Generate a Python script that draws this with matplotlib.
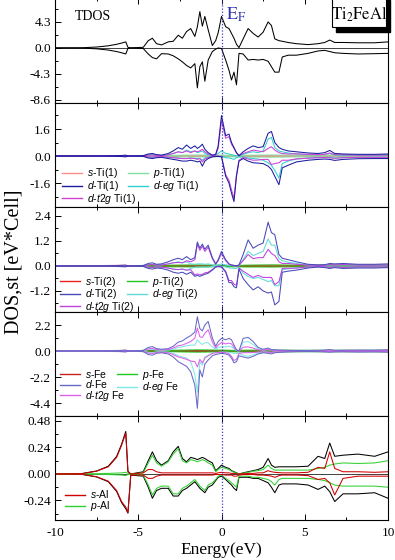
import matplotlib
matplotlib.use("Agg")
import matplotlib.pyplot as plt
from matplotlib.lines import Line2D
from matplotlib.patches import Rectangle
from matplotlib.ticker import MultipleLocator, FormatStrFormatter, FixedLocator

plt.rcParams['font.family'] = ['Liberation Serif', 'DejaVu Serif']
plt.rcParams['axes.unicode_minus'] = False
plt.rcParams['mathtext.fontset'] = 'custom'
plt.rcParams['mathtext.rm'] = 'Liberation Sans'
plt.rcParams['mathtext.it'] = 'Liberation Sans:italic'

# ---------------- data ----------------
E = [-10.0, -8.4, -7.5, -6.8, -6.3, -6.0, -5.75, -5.62, -5.45,
     -4.7, -4.4, -4.15, -3.9, -3.6, -3.2, -2.9, -2.6, -2.35, -2.1, -1.85,
     -1.6, -1.45, -1.3, -1.15, -1.0, -0.8, -0.55, -0.35, -0.2, 0.0,
     0.25, 0.45, 0.6, 0.75, 0.9, 1.05, 1.3, 1.6, 1.9, 2.2,
     2.5, 2.8, 3.0, 3.2, 3.45, 3.65, 4.0, 4.5,
     5.2, 5.8, 6.2, 6.5, 6.8, 7.3, 8.2, 9.2, 10.0]

tdos_up = [0, 0.02, 0.15, 0.35, 0.6, 0.8, 1.0, 0.1, 0.02,
           0.1, 1.2, 1.6, 0.7, 0.5, 1.0, 1.1, 2.1, 1.6, 2.7, 3.2,
           1.9, 3.5, 6.0, 3.6, 5.2, 3.0, 0.4, 1.2, 2.5, 5.2,
           3.5, 3.2, 2.4, 1.6, 0.6, 0.05, 1.5, 3.2, 2.4, 1.8,
           2.6, 4.3, 3.7, 1.5, 1.2, 1.1, 0.9, 0.7,
           0.55, 0.7, 0.9, 1.3, 0.9, 0.9, 0.85, 0.85, 1.0]
tdos_dn = [0, -0.02, -0.15, -0.35, -0.6, -0.8, -1.0, -0.1, -0.02,
           -0.1, -1.0, -1.6, -1.8, -0.95, -1.0, -1.3, -1.8, -2.3, -2.9, -3.3,
           -2.6, -6.6, -3.1, -2.3, -5.5, -2.0, -0.6, -0.2, 0.0, -0.1,
           -2.0, -3.7, -5.3, -4.0, -6.1, -0.9, -1.0, -2.0, -1.9, -2.0,
           -1.9, -2.2, -3.1, -4.0, -4.0, -1.5, -1.2, -1.2,
           -0.9, -0.5, -0.4, -0.6, -0.8, -0.9, -1.0, -0.95, -0.9]

# Ti(1)
ti1_d_up = [0, 0, 0, 0.01, 0.02, 0.03, 0.05, 0.01, 0,
            0.02, 0.12, 0.15, 0.08, 0.05, 0.15, 0.3, 0.5, 0.4, 0.65, 0.45,
            0.6, 0.45, 0.55, 0.7, 0.4, 0.2, 0.05, 0.1, 0.6, 2.4,
            1.2, 1.3, 0.8, 0.5, 0.2, 0.02, 0.25, 0.45, 0.6, 0.5,
            0.55, 1.35, 1.45, 0.8, 0.5, 0.4, 0.3, 0.25,
            0.18, 0.15, 0.2, 0.33, 0.15, 0.12, 0.1, 0.1, 0.12]
ti1_d_dn = [0, 0, 0, -0.01, -0.02, -0.03, -0.05, -0.01, 0,
            -0.02, -0.12, -0.15, -0.1, -0.08, -0.15, -0.2, -0.25, -0.3, -0.3, -0.25,
            -0.3, -0.35, -0.3, -0.6, -0.3, -0.15, -0.05, -0.03, -0.02, -0.05,
            -1.2, -1.6, -2.2, -2.7, -1.2, -0.3, -0.15, -0.3, -0.4, -0.42,
            -0.45, -0.6, -0.8, -1.2, -1.7, -0.7, -0.55, -0.35,
            -0.25, -0.2, -0.18, -0.2, -0.26, -0.2, -0.16, -0.15, -0.15]
ti1_eg_up = [0, 0, 0, 0, 0.01, 0.01, 0.02, 0, 0,
             0.01, 0.07, 0.09, 0.05, 0.03, 0.08, 0.15, 0.25, 0.2, 0.35, 0.25,
             0.3, 0.2, 0.25, 0.3, 0.15, 0.08, 0.02, 0.05, 0.15, 0.3,
             0.15, 0.12, 0.08, 0.05, 0.02, 0.0, 0.1, 0.2, 0.25, 0.2,
             0.3, 1.0, 1.1, 0.5, 0.3, 0.25, 0.18, 0.12,
             0.08, 0.07, 0.1, 0.15, 0.07, 0.05, 0.05, 0.05, 0.06]
ti1_eg_dn = [0, 0, 0, 0, -0.01, -0.01, -0.02, 0, 0,
             -0.01, -0.07, -0.09, -0.06, -0.05, -0.08, -0.1, -0.12, -0.15, -0.15, -0.12,
             -0.15, -0.15, -0.15, -0.25, -0.12, -0.06, -0.02, -0.01, -0.01, -0.02,
             -0.1, -0.12, -0.15, -0.2, -0.1, -0.05, -0.06, -0.12, -0.15, -0.18,
             -0.25, -0.4, -0.55, -0.85, -1.3, -0.45, -0.3, -0.18,
             -0.12, -0.1, -0.09, -0.1, -0.12, -0.1, -0.08, -0.07, -0.07]
ti1_t2g_up = [0, 0, 0, 0.01, 0.01, 0.02, 0.03, 0.01, 0,
              0.01, 0.05, 0.06, 0.03, 0.02, 0.07, 0.15, 0.25, 0.2, 0.3, 0.2,
              0.3, 0.25, 0.3, 0.4, 0.25, 0.12, 0.03, 0.05, 0.45, 2.1,
              1.05, 1.15, 0.7, 0.45, 0.18, 0.02, 0.15, 0.25, 0.35, 0.3,
              0.25, 0.45, 0.55, 0.35, 0.2, 0.15, 0.12, 0.13,
              0.1, 0.08, 0.1, 0.18, 0.08, 0.07, 0.05, 0.05, 0.06]
ti1_t2g_dn = [0, 0, 0, -0.01, -0.01, -0.02, -0.03, -0.01, 0,
              -0.01, -0.05, -0.06, -0.04, -0.03, -0.07, -0.1, -0.13, -0.15, -0.15, -0.13,
              -0.15, -0.2, -0.15, -0.35, -0.18, -0.09, -0.03, -0.02, -0.01, -0.03,
              -1.1, -1.45, -2.0, -2.5, -1.1, -0.25, -0.09, -0.18, -0.25, -0.24,
              -0.2, -0.2, -0.5, -0.45, -0.4, -0.25, -0.25, -0.17,
              -0.13, -0.1, -0.09, -0.1, -0.14, -0.1, -0.08, -0.08, -0.08]

# Ti(2)
ti2_d_up = [0, 0, 0, 0.01, 0.02, 0.03, 0.04, 0.01, 0,
            0.02, 0.12, 0.15, 0.08, 0.1, 0.2, 0.3, 0.37, 0.3, 0.45, 0.3,
            0.4, 1.15, 0.85, 1.05, 0.8, 1.0, 0.4, 0.1, 0.3, 0.7,
            0.3, 0.1, 0.05, 0.03, 0.0, 0.05, 0.55, 1.25, 0.85, 1.0,
            1.1, 2.1, 1.6, 1.5, 0.55, 0.37, 0.3, 0.2,
            0.08, 0.05, 0.06, 0.12, 0.1, 0.12, 0.08, 0.08, 0.1]
ti2_d_dn = [0, 0, 0, -0.01, -0.02, -0.03, -0.04, -0.01, 0,
            -0.02, -0.12, -0.15, -0.1, -0.12, -0.2, -0.3, -0.35, -0.3, -0.4, -0.3,
            -0.5, -0.45, -0.5, -0.45, -0.4, -0.35, -0.2, -0.05, -0.03, -0.05,
            -0.3, -0.8, -0.8, -1.0, -1.05, -0.15, -0.6, -0.9, -1.15, -1.0,
            -1.2, -1.3, -1.25, -1.87, -1.7, -0.3, -0.25, -0.2,
            -0.1, -0.05, -0.08, -0.12, -0.08, -0.12, -0.1, -0.1, -0.08]
ti2_eg_up = [0, 0, 0, 0, 0.01, 0.01, 0.02, 0, 0,
             0.01, 0.06, 0.08, 0.04, 0.06, 0.1, 0.15, 0.2, 0.15, 0.2, 0.1,
             0.08, 0.1, 0.1, 0.1, 0.08, 0.1, 0.05, 0.02, 0.05, 0.1,
             0.05, 0.02, 0.01, 0.01, 0.0, 0.02, 0.3, 0.7, 0.5, 0.6,
             0.7, 1.3, 1.0, 1.0, 0.35, 0.25, 0.18, 0.12,
             0.04, 0.02, 0.03, 0.05, 0.05, 0.05, 0.04, 0.04, 0.05]
ti2_eg_dn = [0, 0, 0, 0, -0.01, -0.01, -0.02, 0, 0,
             -0.01, -0.06, -0.08, -0.05, -0.06, -0.1, -0.15, -0.18, -0.15, -0.2, -0.12,
             -0.06, -0.05, -0.05, -0.05, -0.05, -0.05, -0.03, -0.01, -0.01, -0.01,
             -0.04, -0.1, -0.1, -0.12, -0.12, -0.05, -0.35, -0.5, -0.6, -0.55,
             -0.65, -0.75, -0.7, -0.95, -0.95, -0.18, -0.14, -0.1,
             -0.05, -0.02, -0.04, -0.05, -0.04, -0.05, -0.05, -0.05, -0.04]
ti2_t2g_up = [0, 0, 0, 0.01, 0.01, 0.02, 0.02, 0.01, 0,
              0.01, 0.06, 0.07, 0.04, 0.04, 0.1, 0.15, 0.17, 0.15, 0.25, 0.2,
              0.3, 1.05, 0.75, 0.95, 0.7, 0.9, 0.35, 0.08, 0.25, 0.6,
              0.25, 0.08, 0.04, 0.02, 0.0, 0.03, 0.25, 0.55, 0.35, 0.4,
              0.4, 0.8, 0.6, 0.5, 0.2, 0.12, 0.12, 0.08,
              0.04, 0.03, 0.03, 0.07, 0.05, 0.07, 0.04, 0.04, 0.05]
ti2_t2g_dn = [0, 0, 0, -0.01, -0.01, -0.02, -0.02, -0.01, 0,
              -0.01, -0.06, -0.07, -0.05, -0.06, -0.1, -0.15, -0.17, -0.15, -0.2, -0.18,
              -0.43, -0.38, -0.43, -0.4, -0.33, -0.3, -0.17, -0.04, -0.02, -0.04,
              -0.25, -0.7, -0.7, -0.88, -0.93, -0.1, -0.25, -0.4, -0.55, -0.45,
              -0.55, -0.55, -0.55, -0.9, -0.75, -0.12, -0.11, -0.1,
              -0.05, -0.03, -0.04, -0.07, -0.04, -0.07, -0.05, -0.05, -0.04]

# Fe
fe_d_up = [0, 0, 0, 0.02, 0.03, 0.05, 0.08, 0.02, 0,
           0.05, 0.3, 0.37, 0.2, 0.15, 0.2, 0.4, 0.75, 0.85, 1.1, 1.3,
           1.6, 2.9, 1.9, 1.7, 2.2, 2.5, 1.1, 0.4, 0.8, 1.07,
           0.95, 1.07, 0.95, 0.5, 0.1, 0.0, 1.07, 1.15, 0.8, 0.3,
           0.15, 0.25, 0.12, 0.1, 0.08, 0.07, 0.06, 0.05,
           0.05, 0.06, 0.08, 0.12, 0.06, 0.07, 0.08, 0.08, 0.1]
fe_d_dn = [0, 0, 0, -0.02, -0.03, -0.05, -0.08, -0.02, 0,
           -0.05, -0.3, -0.35, -0.2, -0.15, -0.25, -0.5, -0.9, -1.1, -1.3, -1.75,
           -2.9, -4.85, -1.6, -2.2, -1.1, -0.76, -0.4, -0.3, -0.25, -0.2,
           -0.25, -0.35, -0.6, -1.0, -0.9, -0.4, -0.5, -0.6, -0.45, -0.25,
           -0.15, -0.2, -0.25, -0.15, -0.12, -0.1, -0.08, -0.06,
           -0.05, -0.06, -0.08, -0.1, -0.08, -0.07, -0.09, -0.08, -0.1]
fe_eg_up = [0, 0, 0, 0.01, 0.01, 0.02, 0.03, 0.01, 0,
            0.02, 0.12, 0.15, 0.08, 0.06, 0.08, 0.15, 0.3, 0.35, 0.45, 0.5,
            0.5, 0.95, 0.7, 0.55, 0.7, 0.7, 0.35, 0.15, 0.3, 0.35,
            0.35, 0.4, 0.35, 0.2, 0.04, 0, 0.75, 0.8, 0.55, 0.2,
            0.07, 0.12, 0.06, 0.05, 0.04, 0.03, 0.03, 0.02,
            0.02, 0.03, 0.04, 0.05, 0.03, 0.03, 0.04, 0.04, 0.05]
fe_eg_dn = [0, 0, 0, -0.01, -0.01, -0.02, -0.03, -0.01, 0,
            -0.02, -0.12, -0.14, -0.08, -0.06, -0.1, -0.2, -0.4, -0.5, -0.6, -0.9,
            -2.0, -3.5, -0.9, -1.2, -0.5, -0.35, -0.2, -0.15, -0.12, -0.1,
            -0.1, -0.12, -0.15, -0.2, -0.2, -0.2, -0.35, -0.45, -0.32, -0.17,
            -0.07, -0.1, -0.12, -0.07, -0.06, -0.05, -0.04, -0.03,
            -0.02, -0.03, -0.04, -0.05, -0.04, -0.03, -0.04, -0.04, -0.05]
fe_t2g_up = [0, 0, 0, 0.01, 0.02, 0.03, 0.05, 0.01, 0,
             0.03, 0.18, 0.22, 0.12, 0.09, 0.12, 0.25, 0.45, 0.5, 0.65, 0.8,
             1.1, 1.95, 1.2, 1.15, 1.5, 1.8, 0.75, 0.25, 0.5, 0.72,
             0.6, 0.67, 0.6, 0.3, 0.06, 0, 0.32, 0.35, 0.25, 0.1,
             0.08, 0.13, 0.06, 0.05, 0.04, 0.04, 0.03, 0.03,
             0.03, 0.03, 0.04, 0.07, 0.03, 0.04, 0.04, 0.04, 0.05]
fe_t2g_dn = [0, 0, 0, -0.01, -0.02, -0.03, -0.05, -0.01, 0,
             -0.03, -0.18, -0.21, -0.12, -0.09, -0.15, -0.3, -0.5, -0.6, -0.7, -0.85,
             -0.9, -1.35, -0.7, -1.0, -0.6, -0.41, -0.2, -0.15, -0.13, -0.1,
             -0.15, -0.23, -0.45, -0.8, -0.7, -0.2, -0.15, -0.15, -0.13, -0.08,
             -0.08, -0.1, -0.13, -0.08, -0.06, -0.05, -0.04, -0.03,
             -0.03, -0.03, -0.04, -0.05, -0.04, -0.04, -0.05, -0.04, -0.05]

# s and p of the transition-metal sites (coarse grid)
E_SP = [-10.0, -5.8, -5.5, -4.3, -3.0, -1.5, 0.0, 0.8, 1.5, 3.0, 4.5, 6.5, 8.0, 10.0]
ti1_s_up = [0, 0.03, 0, 0.03, 0.02, 0.03, 0.02, 0.01, 0.02, 0.03, 0.03, 0.04, 0.03, 0.03]
ti1_s_dn = [0, -0.03, 0, -0.03, -0.02, -0.03, -0.02, -0.02, -0.02, -0.03, -0.03, -0.04, -0.03, -0.03]
ti1_p_up = [0, 0.01, 0, 0.05, 0.04, 0.06, 0.05, 0.03, 0.05, 0.06, 0.05, 0.05, 0.05, 0.05]
ti1_p_dn = [0, -0.01, 0, -0.05, -0.05, -0.06, -0.04, -0.05, -0.06, -0.07, -0.05, -0.05, -0.05, -0.05]
ti2_s_up = [0, 0.03, 0, 0.03, 0.02, 0.02, 0.02, 0.01, 0.02, 0.03, 0.02, 0.03, 0.03, 0.03]
ti2_s_dn = [0, -0.03, 0, -0.03, -0.02, -0.02, -0.02, -0.02, -0.02, -0.03, -0.02, -0.03, -0.03, -0.03]
ti2_p_up = [0, 0.01, 0, 0.04, 0.04, 0.05, 0.04, 0.02, 0.04, 0.05, 0.04, 0.04, 0.04, 0.04]
ti2_p_dn = [0, -0.01, 0, -0.04, -0.04, -0.05, -0.03, -0.04, -0.05, -0.05, -0.04, -0.04, -0.04, -0.04]
fe_s_up = [0, 0.05, 0, 0.05, 0.03, 0.04, 0.03, 0.02, 0.03, 0.03, 0.03, 0.04, 0.03, 0.03]
fe_s_dn = [0, -0.05, 0, -0.05, -0.03, -0.04, -0.03, -0.03, -0.03, -0.03, -0.03, -0.04, -0.03, -0.03]
fe_p_up = [0, 0.02, 0, 0.08, 0.06, 0.1, 0.08, 0.05, 0.07, 0.08, 0.06, 0.06, 0.06, 0.06]
fe_p_dn = [0, -0.02, 0, -0.08, -0.06, -0.1, -0.07, -0.07, -0.08, -0.08, -0.06, -0.06, -0.06, -0.06]

# Al
al_tot_up = [0, 0.003, 0.027, 0.07, 0.158, 0.27, 0.385, 0.025, 0,
             0.02, 0.12, 0.2, 0.12, 0.08, 0.12, 0.2, 0.25, 0.14, 0.11, 0.15,
             0.14, 0.13, 0.14, 0.15, 0.14, 0.12, 0.1, 0.03, 0.05, 0.08,
             0.06, 0.05, 0.03, 0.02, 0.01, 0.0, 0.01, 0.02, 0.03, 0.04,
             0.06, 0.14, 0.08, 0.06, 0.065, 0.065, 0.065, 0.065,
             0.07, 0.16, 0.14, 0.28, 0.16, 0.17, 0.18, 0.16, 0.2]
al_tot_dn = [0, -0.003, -0.027, -0.07, -0.158, -0.26, -0.315, -0.355, -0.01,
             -0.02, -0.12, -0.22, -0.15, -0.13, -0.13, -0.2, -0.2, -0.15, -0.13, -0.1,
             -0.07, -0.1, -0.13, -0.15, -0.17, -0.12, -0.1, -0.06, -0.03, -0.02,
             -0.05, -0.08, -0.1, -0.13, -0.15, -0.03, -0.03, -0.03, -0.04, -0.04,
             -0.06, -0.08, -0.12, -0.17, -0.1, -0.09, -0.09, -0.09,
             -0.1, -0.14, -0.11, -0.16, -0.25, -0.18, -0.18, -0.17, -0.22]
al_s_up = [0, 0.003, 0.025, 0.065, 0.15, 0.26, 0.37, 0.02, 0,
           0.01, 0.04, 0.04, 0.02, 0.01, 0.01, 0.01, 0.01, 0.01, 0.01, 0.01,
           0.01, 0.01, 0.01, 0.01, 0.01, 0.01, 0.01, 0.005, 0.01, 0.015,
           0.01, 0.01, 0.005, 0.005, 0.002, 0.0, 0.002, 0.005, 0.005, 0.01,
           0.01, 0.03, 0.02, 0.015, 0.012, 0.01, 0.01, 0.01,
           0.015, 0.06, 0.05, 0.2, 0.05, 0.02, 0.02, 0.015, 0.02]
al_s_dn = [0, -0.003, -0.025, -0.065, -0.15, -0.25, -0.3, -0.35, -0.01,
           -0.01, -0.04, -0.04, -0.02, -0.01, -0.01, -0.01, -0.01, -0.01, -0.01, -0.01,
           -0.01, -0.01, -0.01, -0.01, -0.01, -0.01, -0.01, -0.005, -0.005, -0.005,
           -0.01, -0.01, -0.01, -0.02, -0.02, -0.01, -0.005, -0.005, -0.005, -0.01,
           -0.01, -0.015, -0.02, -0.03, -0.015, -0.01, -0.01, -0.01,
           -0.015, -0.05, -0.04, -0.08, -0.19, -0.04, -0.02, -0.02, -0.02]
al_p_up = [0, 0, 0.002, 0.005, 0.008, 0.01, 0.015, 0.005, 0,
           0.01, 0.1, 0.17, 0.1, 0.07, 0.11, 0.18, 0.23, 0.12, 0.1, 0.13,
           0.12, 0.11, 0.12, 0.13, 0.12, 0.1, 0.08, 0.02, 0.04, 0.06,
           0.05, 0.04, 0.025, 0.015, 0.008, 0.0, 0.008, 0.015, 0.025, 0.03,
           0.04, 0.08, 0.05, 0.035, 0.035, 0.035, 0.035, 0.035,
           0.035, 0.05, 0.06, 0.08, 0.09, 0.1, 0.095, 0.1, 0.12]
al_p_dn = [0, 0, -0.002, -0.005, -0.008, -0.01, -0.015, -0.005, 0,
           -0.01, -0.1, -0.19, -0.13, -0.11, -0.11, -0.18, -0.18, -0.13, -0.11, -0.08,
           -0.05, -0.08, -0.11, -0.13, -0.15, -0.1, -0.08, -0.05, -0.02, -0.01,
           -0.04, -0.06, -0.08, -0.1, -0.12, -0.02, -0.02, -0.02, -0.03, -0.03,
           -0.04, -0.05, -0.07, -0.1, -0.05, -0.04, -0.04, -0.04,
           -0.04, -0.05, -0.06, -0.08, -0.1, -0.11, -0.11, -0.11, -0.12]

X_TICKS = [-10, -5, 0, 5, 10]
P1_TICKS = [-8.6, -4.3, 0.0, 4.3]
P2_TICKS = [-1.6, 0.0, 1.6]
P3_TICKS = [-1.2, 0.0, 1.2, 2.4]
P4_TICKS = [-4.4, -2.2, 0.0, 2.2]
P5_TICKS = [-0.24, 0.0, 0.24, 0.48]

# ---------------- figure ----------------
W, H = 395, 560
fig = plt.figure(figsize=(W / 100, H / 100), dpi=100)

L, R = 55, 388
panels_px = [(-2, 103), (103, 207), (207, 312), (312, 416), (416, 520)]
ylims = [(-9.1, 8.25), (-3.02, 3.14), (-2.21, 2.83), (-5.5, 3.3), (-0.417, 0.525)]
yticks = [P1_TICKS, P2_TICKS, P3_TICKS, P4_TICKS, P5_TICKS]
fmts = ['%.1f', '%.1f', '%.1f', '%.1f', '%.2f']

axes = []
for i, (t, b) in enumerate(panels_px):
    ax = fig.add_axes([L / W, 1 - b / H, (R - L) / W, (b - t) / H])
    ax.set_xlim(-10, 10)
    ax.set_ylim(*ylims[i])
    ax.xaxis.set_major_locator(FixedLocator(X_TICKS))
    ax.xaxis.set_minor_locator(MultipleLocator(2.5))
    ax.yaxis.set_major_locator(FixedLocator(yticks[i]))
    step = yticks[i][1] - yticks[i][0]
    ax.yaxis.set_minor_locator(MultipleLocator(step / 2))
    ax.yaxis.set_major_formatter(FormatStrFormatter(fmts[i]))
    ax.tick_params(axis='both', which='both', direction='in', top=True, right=False,
                   labelsize=9.5, width=0.7, pad=3)
    ax.tick_params(axis='both', which='major', length=4)
    ax.tick_params(axis='both', which='minor', length=2.5)
    ax.tick_params(axis='x', pad=5)
    if i < 4:
        ax.tick_params(axis='x', labelbottom=False)
    for s in ax.spines.values():
        s.set_linewidth(0.8)
    ax.axhline(0, color='#404040', lw=0.7, zorder=1)
    ax.axvline(0, color='#3c3cc0', lw=0.9, ls=(0, (1, 1.5)), zorder=6)
    axes.append(ax)

lw = 0.75
LEG = dict(frameon=False, borderpad=0, borderaxespad=0, handlelength=1.9,
           handletextpad=0.5, labelspacing=-0.12,
           prop={'family': 'Liberation Sans', 'size': 7.5})

# Panel 1: TDOS
ax = axes[0]
ax.plot(E, tdos_up, color='black', lw=lw)
ax.plot(E, tdos_dn, color='black', lw=lw)
ax.text(0.06, 0.82, 'TDOS', transform=ax.transAxes, fontsize=10, va='center')
ax.text(0.25, 5.5, r'$\mathrm{E_F}$', color='#3030b0', fontsize=13,
        va='center', ha='left', math_fontfamily='stix')


def tm_panel(ax, tag, cols, s_up, s_dn, p_up, p_dn, eg_up, eg_dn, t_up, t_dn, d_up, d_dn,
             x1, x2, ytop):
    cs, cp, cd, ce, ct = cols
    ax.plot(E_SP, s_up, color=cs, lw=lw)
    ax.plot(E_SP, s_dn, color=cs, lw=lw)
    ax.plot(E_SP, p_up, color=cp, lw=lw)
    ax.plot(E_SP, p_dn, color=cp, lw=lw)
    ax.plot(E, eg_up, color=ce, lw=lw)
    ax.plot(E, eg_dn, color=ce, lw=lw)
    ax.plot(E, t_up, color=ct, lw=lw)
    ax.plot(E, t_dn, color=ct, lw=lw)
    ax.plot(E, d_up, color=cd, lw=lw)
    ax.plot(E, d_dn, color=cd, lw=lw)
    h1 = [Line2D([], [], color=cs, lw=1), Line2D([], [], color=cd, lw=1),
          Line2D([], [], color=ct, lw=1)]
    l1 = [r'$s$-' + tag, r'$d$-' + tag, r'$d$-$t2g$ ' + tag]
    h2 = [Line2D([], [], color=cp, lw=1), Line2D([], [], color=ce, lw=1)]
    l2 = [r'$p$-' + tag, r'$d$-$eg$ ' + tag]
    leg1 = ax.legend(h1, l1, loc='upper left', bbox_to_anchor=(x1, ytop), **LEG)
    ax.add_artist(leg1)
    ax.legend(h2, l2, loc='upper left', bbox_to_anchor=(x2, ytop), **LEG)


tm_panel(axes[1], 'Ti(1)', ('#ff8a8a', '#80e0a0', '#1c1ca0', '#30d0d0', '#d040d8'),
         ti1_s_up, ti1_s_dn, ti1_p_up, ti1_p_dn, ti1_eg_up, ti1_eg_dn,
         ti1_t2g_up, ti1_t2g_dn, ti1_d_up, ti1_d_dn, 0.021, 0.22, 0.39)
tm_panel(axes[2], 'Ti(2)', ('#e82020', '#20c820', '#4848b8', '#60dada', '#c040e0'),
         ti2_s_up, ti2_s_dn, ti2_p_up, ti2_p_dn, ti2_eg_up, ti2_eg_dn,
         ti2_t2g_up, ti2_t2g_dn, ti2_d_up, ti2_d_dn, 0.015, 0.216, 0.357)
tm_panel(axes[3], 'Fe', ('#c82020', '#20c820', '#6868c8', '#80e8e8', '#e060e8'),
         fe_s_up, fe_s_dn, fe_p_up, fe_p_dn, fe_eg_up, fe_eg_dn,
         fe_t2g_up, fe_t2g_dn, fe_d_up, fe_d_dn, 0.015, 0.186, 0.466)

# Panel 5: Al
ax = axes[4]
ax.plot(E, al_tot_up, color='black', lw=lw)
ax.plot(E, al_tot_dn, color='black', lw=lw)
ax.plot(E, al_p_up, color='#30d030', lw=lw)
ax.plot(E, al_p_dn, color='#30d030', lw=lw)
ax.plot(E, al_s_up, color='#d00000', lw=lw)
ax.plot(E, al_s_dn, color='#d00000', lw=lw)
hs = [Line2D([], [], color='#d00000', lw=1), Line2D([], [], color='#30d030', lw=1)]
ax.legend(hs, [r'$s$-Al', r'$p$-Al'], loc='upper left', bbox_to_anchor=(0.03, 0.303), **LEG)
ax.set_xticklabels(['-10', '-5', '0', '5', '10'])
ax.set_xlabel('Energy(eV)', fontsize=12.5, labelpad=2)

fig.text(14 / W, 1 - 262 / H, 'DOS,st [eV*Cell]', rotation=90, fontsize=14.5,
         ha='center', va='center')

# Ti2FeAl label box with shadow
fig.add_artist(Rectangle((336 / W, 1 - 32 / H), 54 / W, 32 / H,
                         transform=fig.transFigure, facecolor='black', edgecolor='black', zorder=10))
fig.add_artist(Rectangle((332 / W, 1 - 27 / H), 54 / W, 30 / H,
                         transform=fig.transFigure, facecolor='white', edgecolor='black',
                         lw=0.8, zorder=11))
fig.text(359 / W, 1 - 14 / H, r'$\mathrm{Ti_2FeAl}$', fontsize=12, ha='center', va='center',
         math_fontfamily='stix', zorder=12)

fig.savefig('out.png', dpi=100)
